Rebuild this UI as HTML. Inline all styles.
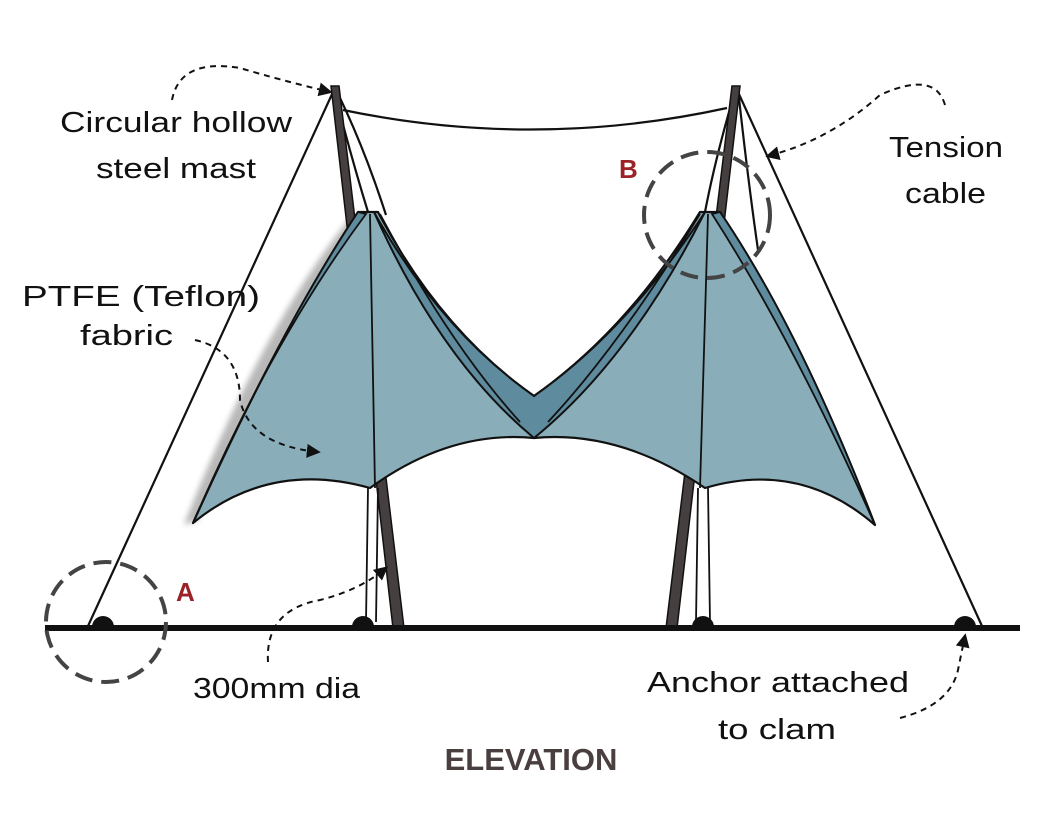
<!DOCTYPE html>
<html><head><meta charset="utf-8"><style>
html,body{margin:0;padding:0;background:#fff;}
svg{display:block;}
.t{font-family:"Liberation Sans",sans-serif;font-size:29px;fill:#111;}
</style></head><body>
<svg width="1063" height="824" viewBox="0 0 1063 824" xmlns="http://www.w3.org/2000/svg">
<defs>
<marker id="ar" viewBox="0 0 10 10" refX="8" refY="5" markerWidth="7" markerHeight="7" orient="auto"><path d="M0,0 L10,5 L0,10 z" fill="#111"/></marker>
<filter id="bl"><feGaussianBlur stdDeviation="3"/></filter>
</defs>
<path d="M184,525 Q260,330 350,218 L358,228 Q280,340 198,520 Z" fill="#888" filter="url(#bl)" opacity="0.6"/>
<g stroke="#111" stroke-width="2.2" fill="none">
<path d="M333,92 L88,626"/>
<path d="M738,92 L982,626"/>
<path d="M343,110 Q535,150 727,108"/>
<path d="M336,98 Q352,160 368,212"/>
<path d="M340,98 Q365,150 386,215"/>
<path d="M733,98 Q715,160 705,212"/>
<path d="M739,98 Q748,180 758,250"/>
</g>
<path d="M331,86 L339,86 L404,628 L393,628 Z" fill="#463f3f" stroke="#111" stroke-width="1.5"/>
<path d="M732,86 L740,86 L677,628 L666,628 Z" fill="#463f3f" stroke="#111" stroke-width="1.5"/>
<path d="M193,523 Q280,330 358,212 L378,212 Q440,330 534,396 Q628,330 700,212 L720,212 Q800,330 875,525 Q800,460 705,488 Q620,430 534,438 Q450,430 370,488 Q270,460 193,523 Z" fill="#89aeb9" stroke="#111" stroke-width="2.2" stroke-linejoin="round"/>
<path d="M374,212 Q440,330 534,396 Q628,330 705,212 Q630,360 534,438 Q440,360 374,212 Z" fill="#5e8b9e" stroke="#111" stroke-width="2"/>
<path d="M358,212 Q280,330 193,523 Q272,340 366,214 Z" fill="#5e8b9e" stroke="#111" stroke-width="1.8"/>
<path d="M720,212 Q800,330 875,525 Q793,340 712,214 Z" fill="#5e8b9e" stroke="#111" stroke-width="1.8"/>
<g stroke="#111" stroke-width="1.8" fill="none">
<path d="M370,214 L375,488"/><path d="M708,214 L700,488"/>
<path d="M368,488 L366,622"/><path d="M378,488 L376,622"/>
<path d="M698,488 L696,622"/><path d="M708,488 L710,622"/>
<path d="M380,214 Q450,345 520,422"/>
<path d="M700,214 Q620,345 548,422"/>
</g>
<rect x="45" y="625" width="975" height="6" fill="#111"/>
<g fill="#111">
<path d="M92,627 a11,11 0 0 1 22,0z"/><path d="M352,627 a11,11 0 0 1 22,0z"/>
<path d="M692,627 a11,11 0 0 1 22,0z"/><path d="M954,627 a11,11 0 0 1 22,0z"/>
</g>
<circle cx="106" cy="622" r="60" fill="none" stroke="#444" stroke-width="4" stroke-dasharray="18,9"/>
<circle cx="707" cy="215" r="63" fill="none" stroke="#444" stroke-width="4" stroke-dasharray="18,9"/>
<g stroke="#111" stroke-width="2" fill="none" stroke-dasharray="6,5" marker-end="url(#ar)">
<path d="M172,100 Q180,58 240,68 Q280,80 330,92"/>
<path d="M945,105 Q935,70 880,95 Q830,140 768,156"/>
<path d="M195,340 Q240,350 240,400 Q250,445 318,452"/>
<path d="M268,662 Q265,610 320,600 Q360,590 386,568"/>
<path d="M900,718 Q950,705 958,670 Q962,650 965,636"/>
</g>
<text class="t" x="60" y="132" textLength="232" lengthAdjust="spacingAndGlyphs">Circular hollow</text>
<text class="t" x="96" y="178" textLength="160" lengthAdjust="spacingAndGlyphs">steel mast</text>
<text class="t" x="22" y="306" textLength="238" lengthAdjust="spacingAndGlyphs">PTFE (Teflon)</text>
<text class="t" x="80" y="345" textLength="93" lengthAdjust="spacingAndGlyphs">fabric</text>
<text class="t" x="889" y="157" textLength="114" lengthAdjust="spacingAndGlyphs">Tension</text>
<text class="t" x="905" y="203" textLength="81" lengthAdjust="spacingAndGlyphs">cable</text>
<text class="t" x="193" y="698" textLength="167" lengthAdjust="spacingAndGlyphs">300mm dia</text>
<text class="t" x="647" y="692" textLength="262" lengthAdjust="spacingAndGlyphs">Anchor attached</text>
<text class="t" x="718" y="739" textLength="118" lengthAdjust="spacingAndGlyphs">to clam</text>
<text x="531" y="770" text-anchor="middle" font-family="Liberation Sans,sans-serif" font-weight="bold" font-size="31" fill="#4a3f3f">ELEVATION</text>
<text x="176" y="601" font-family="Liberation Sans,sans-serif" font-weight="bold" font-size="26" fill="#9b2226">A</text>
<text x="619" y="178" font-family="Liberation Sans,sans-serif" font-weight="bold" font-size="26" fill="#9b2226">B</text>
</svg>
</body></html>
